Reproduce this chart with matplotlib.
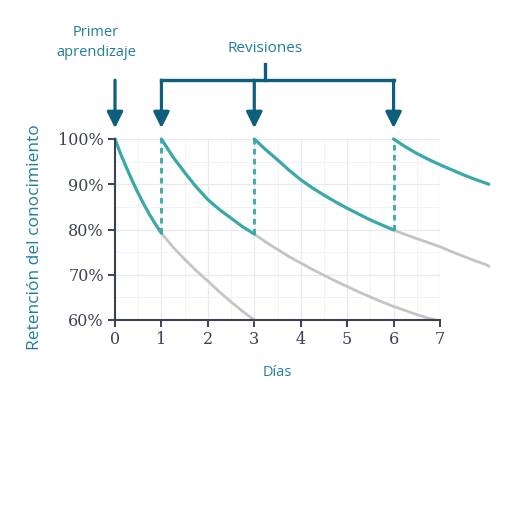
import matplotlib.pyplot as plt
from matplotlib.ticker import MultipleLocator, FuncFormatter

# days vs retention (%)
c1_x = [0, 0.125, 0.25, 0.375, 0.5, 0.625, 0.75, 0.875, 1]
c1_y = [100, 96.6, 93.6, 90.7, 88.0, 85.5, 83.2, 81.1, 79.2]
g1_x = [1, 1.25, 1.5, 1.75, 2, 2.25, 2.5, 2.75, 3]
g1_y = [79.2, 76.1, 73.4, 70.9, 68.6, 66.2, 64.0, 61.9, 60.0]

c2_x = [1, 1.25, 1.5, 1.75, 2, 2.25, 2.5, 2.75, 3]
c2_y = [100, 96.0, 92.6, 89.4, 86.6, 84.4, 82.5, 80.6, 79.0]
g2_x = [3, 3.25, 3.5, 3.75, 4, 4.25, 4.5, 4.75, 5, 5.25, 5.5, 5.75, 6,
        6.25, 6.5, 6.75, 6.9]
g2_y = [79.0, 77.2, 75.6, 74.0, 72.6, 71.2, 69.9, 68.6, 67.4, 66.2, 65.1,
        64.0, 63.0, 62.1, 61.2, 60.4, 60.0]

c3_x = [3, 3.25, 3.5, 3.75, 4, 4.25, 4.5, 4.75, 5, 5.25, 5.5, 5.75, 6]
c3_y = [100, 97.6, 95.4, 93.1, 91.0, 89.2, 87.6, 86.1, 84.7, 83.4, 82.1,
        81.0, 79.9]
g3_x = [6, 6.25, 6.5, 6.75, 7, 7.25, 7.5, 7.75, 8, 8.05]
g3_y = [79.9, 78.9, 78.0, 77.1, 76.2, 75.1, 74.1, 73.1, 72.2, 71.9]

c4_x = [6, 6.25, 6.5, 6.75, 7, 7.25, 7.5, 7.75, 8, 8.05]
c4_y = [100, 98.3, 96.8, 95.5, 94.3, 93.2, 92.1, 91.1, 90.2, 90.0]

review_days = [1, 3, 6]
review_low = [79.2, 79.0, 79.9]

teal = '#3aa8a8'
gray = '#c4c4c4'
dark = '#0e5e7e'
txt = '#227d9e'
axc = '#3c4252'

fig = plt.figure(figsize=(5.12, 5.12), dpi=100)
ax = fig.add_axes([115/512, 192/512, 325/512, 181/512])
ax.set_xlim(0, 7)
ax.set_ylim(60, 100)

ax.xaxis.set_major_locator(MultipleLocator(1))
ax.xaxis.set_minor_locator(MultipleLocator(0.5))
ax.yaxis.set_major_locator(MultipleLocator(10))
ax.yaxis.set_minor_locator(MultipleLocator(5))
ax.grid(True, which='major', color='#e6eaee', lw=0.9)
ax.grid(True, which='minor', color='#f1f3f5', lw=0.7)
ax.tick_params(which='minor', length=0)
ax.tick_params(which='major', length=5, width=1.4, color=axc, labelcolor=axc,
               labelsize=11.5, pad=3)
ax.yaxis.set_major_formatter(FuncFormatter(lambda v, p: f'{int(v)}%'))
for lab in ax.get_xticklabels() + ax.get_yticklabels():
    lab.set_family('DejaVu Serif')
for s in ['top', 'right']:
    ax.spines[s].set_visible(False)
for s in ['left', 'bottom']:
    ax.spines[s].set_color(axc)
    ax.spines[s].set_linewidth(1.5)
    ax.spines[s].set_zorder(5)

for gx, gy in [(g1_x, g1_y), (g2_x, g2_y), (g3_x, g3_y)]:
    ax.plot(gx, gy, color=gray, lw=2, clip_on=False, zorder=3)
for cx, cy in [(c1_x, c1_y), (c2_x, c2_y), (c3_x, c3_y), (c4_x, c4_y)]:
    ax.plot(cx, cy, color=teal, lw=2.3, clip_on=False, zorder=4,
            solid_capstyle='round', solid_joinstyle='round')
for d, lo in zip(review_days, review_low):
    ax.plot([d, d], [lo, 100], color=teal, lw=2, ls=(0, (2, 1.6)), zorder=4)

# arrows and bracket above the plot
arrow_top = 113.0
arrow_tip = 102.4
aprops = dict(arrowstyle='-|>', color=dark, lw=2.3, mutation_scale=24,
              shrinkA=0, shrinkB=0)
for d in [0] + review_days:
    ax.annotate('', xy=(d, arrow_tip), xytext=(d, arrow_top),
                arrowprops=aprops, annotation_clip=False)
ax.plot([review_days[0], review_days[-1]], [arrow_top, arrow_top], color=dark,
        lw=2.4, clip_on=False, solid_capstyle='projecting')
ax.plot([3.23, 3.23], [arrow_top, 116.6], color=dark, lw=2.4, clip_on=False)

ax.text(3.23, 120.1, 'Revisiones', ha='center', va='center', color=txt,
        fontsize=11, family='Open Sans')
ax.text(-0.41, 121.3, 'Primer\naprendizaje', ha='center', va='center',
        color=txt, fontsize=10.5, family='Open Sans', linespacing=1.45)
ax.set_xlabel('Días', color=txt, fontsize=10.5, family='Open Sans', labelpad=12)
ax.set_ylabel('Retención del conocimiento', color=txt, fontsize=12.5,
              family='Open Sans')
ax.yaxis.set_label_coords(-0.221, 0.46)

fig.savefig('out.png', dpi=100)
